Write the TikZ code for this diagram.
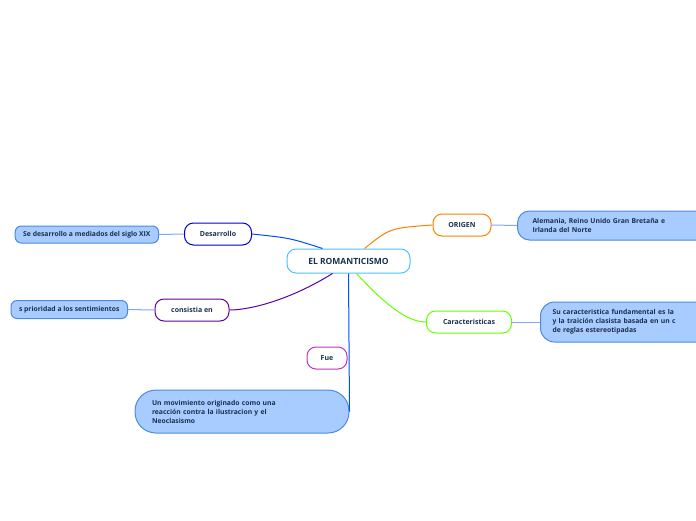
\documentclass[tikz,border=0pt]{standalone}
\usepackage{fontspec}
\setmainfont{Open Sans}
\definecolor{leaf}{HTML}{A8CCFF}
\definecolor{leafb}{HTML}{4A8BE0}
\definecolor{txt}{HTML}{1A3050}
\begin{document}
\begin{tikzpicture}[x=1pt,y=-1pt,
 topic/.style={draw,line width=1pt,rounded corners=9pt,fill=white,font=\fontsize{7}{8}\selectfont\bfseries,text=txt,minimum height=22pt,inner xsep=8pt},
 leafbox/.style={draw=leafb,line width=1pt,fill=leaf,rounded corners=9pt,font=\fontsize{6.8}{9}\selectfont\bfseries,text=txt,inner xsep=12pt},
 link/.style={draw=leaf!80!blue,line width=1pt}]
\useasboundingbox (0,0) rectangle (696,520);
\clip (0,0) rectangle (696,520);
\node[draw=none,fill=white] at (348,260) {};
% leaf connectors first
\coordinate (dl) at (159,234);
\coordinate (cl) at (128,310);
\node[topic,draw=blue!80!black,minimum width=67pt] (des) at (218,234) {Desarrollo};
\node[topic,draw=violet!80!blue,minimum width=74pt] (con) at (192,310) {consistia en};
\node[topic,draw=orange,minimum width=58pt] (ori) at (462,225) {ORIGEN};
\node[topic,draw=green!60!yellow,minimum width=85pt] (car) at (469,322) {Caracteristicas};
\node[topic,draw=violet!60!magenta!80,minimum width=40pt] (fue) at (327,358) {Fue};
\node[leafbox,anchor=east,minimum height=17pt,rounded corners=6pt,inner xsep=8pt] (l1) at (159,234.5) {Se desarrollo a mediados del siglo XIX};
\node[leafbox,anchor=east,minimum height=18pt,rounded corners=6pt,inner xsep=8pt] (l2) at (128,309.5) {s prioridad a los sentimientos};
\node[leafbox,anchor=west,minimum height=29pt,minimum width=200pt,align=left,rounded corners=12pt,text width=170pt] (l3) at (517,225.5) {Alemania, Reino Unido Gran Bretaña e\\Irlanda del Norte};
\node[leafbox,anchor=west,minimum height=40pt,minimum width=200pt,align=left,rounded corners=14pt,text width=180pt] (l4) at (540,322) {Su caracteristica fundamental es la\\y la traición clasista basada en un c\\de reglas estereotipadas};
\node[leafbox,minimum width=214pt,minimum height=43pt,align=left,rounded corners=21pt,text width=180pt] (l5) at (242,411.5) {Un movimiento originado como una\\reacción contra la ilustracion y el\\Neoclasismo};
\node[topic,draw=blue!35!cyan!70,font=\fontsize{8.5}{10}\selectfont\bfseries,minimum width=123pt,minimum height=24pt] (root) at (348.5,261) {EL ROMANTICISMO};
\begin{scope}[on background layer/.style={}]
\end{scope}
% connectors
\draw[blue!70!cyan,line width=1pt] ([xshift=-26pt]root.north) .. controls (290,238) .. (des.east);
\draw[violet!70!blue,line width=1pt] ([xshift=-16pt]root.south) .. controls (290,300) and (250,310) .. (con.east);
\draw[orange,line width=1pt] ([xshift=16pt]root.north) .. controls (390,228) .. (ori.west);
\draw[green!60!yellow,line width=1pt] ([xshift=8pt]root.south) .. controls (390,310) and (410,322) .. (car.west);
\draw[blue!70!cyan,line width=1pt] (root.south) -- (l5.east);
\draw[link] (des.west) -- (l1.east);
\draw[link] (con.west) -- (l2.east);
\draw[link] (ori.east) -- (l3.west);
\draw[link] (car.east) -- (l4.west);
\end{tikzpicture}
\end{document}
